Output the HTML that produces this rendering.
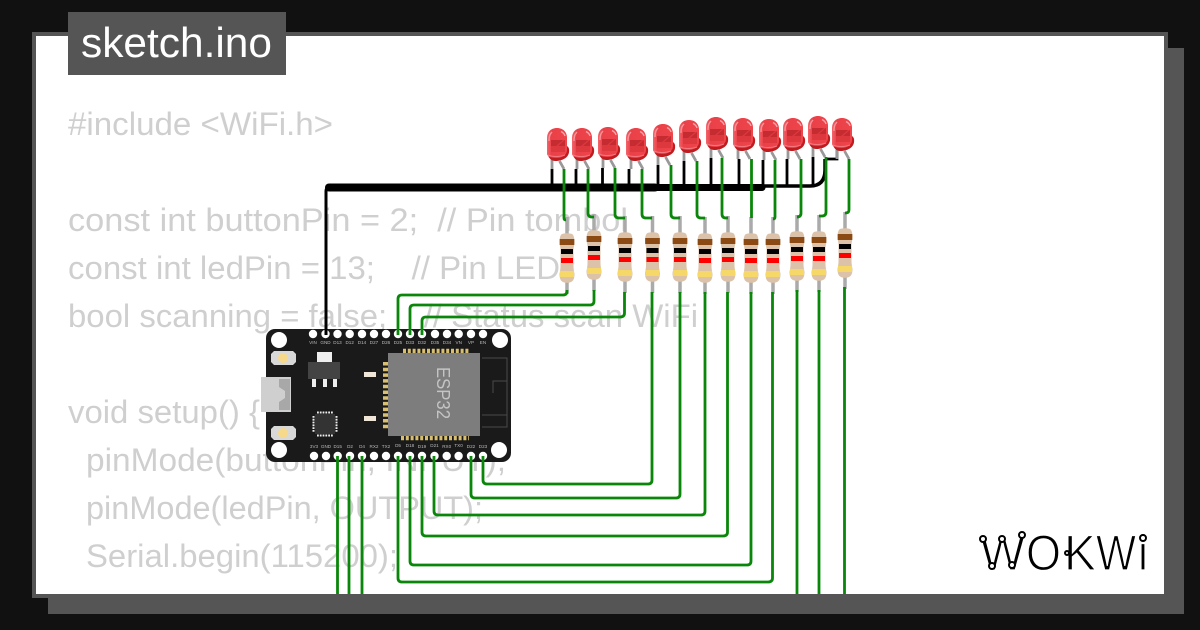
<!DOCTYPE html>
<html>
<head>
<meta charset="utf-8">
<style>
html,body{margin:0;padding:0;background:#111;width:1200px;height:630px;overflow:hidden}
svg{display:block}
.c{font-family:"Liberation Sans",sans-serif;font-size:32px;fill:#cfcfcf;white-space:pre}
.t{font-family:"Liberation Sans",sans-serif;font-size:4.6px;fill:#bbb;text-anchor:middle}
.g{fill:none;stroke:#0a860a;stroke-width:2.8;stroke-linejoin:round}
.k{fill:none;stroke:#000;stroke-width:2.8}
.w{font-family:"Liberation Sans",sans-serif;font-size:50px;fill:#000;stroke:#fff;stroke-width:1.2px}
</style>
</head>
<body>
<svg width="1200" height="630" viewBox="0 0 1200 630" xmlns="http://www.w3.org/2000/svg">
<defs>
<linearGradient id="lg" x1="0" x2="1" y1="0" y2="0">
<stop offset="0" stop-color="#f4656c"/><stop offset=".22" stop-color="#ea4048"/><stop offset="1" stop-color="#ee444a"/>
</linearGradient>
<g id="led">
<path d="M-5 31V41M2.500 33L7 41" fill="none" stroke="#999" stroke-width="2.800"/>
<path d="M-10 20C-6 16 11 14 12 21C13 28 8 32 0 33C-6 33.500 -10 30 -10 20Z" fill="#c01c20"/>
<path d="M-10 10C-10 3 -5 0 0 0C5 0 10 3 10 10V22C10 27 5 30 -1 30C-6 30 -10 28 -10 26Z" fill="url(#lg)"/>
<path d="M-6 12H8V24H-6Z" fill="#dc383e"/>
<path d="M-6 12H6L-1 18H-6Z" fill="#c42c32"/>
<path d="M8 12L1 18L8 18Z" fill="#c42c32"/>
<path d="M-8 13C-8 8 -7 6 -5 4" fill="none" stroke="#f8959a" stroke-width="1.400"/>
<path d="M4 3.500C6 4.500 7.500 6 8 8" fill="none" stroke="#f8a5aa" stroke-width="1.400"/>
<path d="M-9 27C-5 29 3 29 8 27" fill="none" stroke="#f27880" stroke-width="1"/>
</g>
<g id="res">
<path d="M0 -17V60" stroke="#aaa" stroke-width="3.500" fill="none"/>
<path d="M-5 0C-2 -1 2 -1 5 0C7 1 7.500 5 7.500 9C7 12 6.500 14 6.500 16V32C6.500 35 7 37 7.500 40C7.500 44 6.500 47 4 48C2 49 -2 49 -4 48C-6.500 47 -7.500 44 -7.500 40C-7 37 -6.500 35 -6.500 32V16C-6.500 14 -7 12 -7.500 9C-7.500 5 -7 1 -5 0Z" fill="#dcc2a8"/>
<rect x="-7.300" y="5" width="14.600" height="6" fill="#8b4a14"/>
<rect x="-6" y="15" width="12" height="5" fill="#000"/>
<rect x="-6" y="24" width="12" height="5" fill="#ff0000"/>
<rect x="-7" y="37" width="14" height="6" fill="#f5d867"/>
</g>
</defs>

<rect x="48" y="48" width="1136" height="566" fill="#555"/>
<rect x="32" y="32" width="1136" height="566" fill="#555"/>
<rect x="36" y="36" width="1128" height="558" fill="#fff"/>

<text class="c" x="68" y="135" textLength="265" lengthAdjust="spacingAndGlyphs">#include &lt;WiFi.h&gt;</text>
<text class="c" x="68" y="231" textLength="560" lengthAdjust="spacingAndGlyphs">const int buttonPin = 2;  // Pin tombol</text>
<text class="c" x="68" y="279" textLength="492" lengthAdjust="spacingAndGlyphs">const int ledPin = 13;    // Pin LED</text>
<text class="c" x="68" y="327" textLength="630" lengthAdjust="spacingAndGlyphs">bool scanning = false;    // Status scan WiFi</text>
<text class="c" x="68" y="423" textLength="192" lengthAdjust="spacingAndGlyphs">void setup() {</text>
<text class="c" x="86" y="471" textLength="420" lengthAdjust="spacingAndGlyphs">pinMode(buttonPin, INPUT);</text>
<text class="c" x="86" y="519" textLength="397" lengthAdjust="spacingAndGlyphs">pinMode(ledPin, OUTPUT);</text>
<text class="c" x="86" y="567" textLength="312" lengthAdjust="spacingAndGlyphs">Serial.begin(115200);</text>

<rect x="68" y="12" width="218" height="63" fill="#555"/>
<text x="81" y="57" font-family="'Liberation Sans',sans-serif" font-size="42" fill="#fff" textLength="191" lengthAdjust="spacingAndGlyphs">sketch.ino</text>

<!-- board -->
<rect x="266" y="329" width="245" height="133" rx="9" fill="#1a1a1a"/>
<g fill="#fff">
<circle cx="279" cy="340" r="8"/><circle cx="279" cy="450" r="8"/><circle cx="500" cy="340" r="8"/><circle cx="499" cy="450" r="8"/>
<circle cx="313" cy="334" r="4.200"/><circle cx="325.500" cy="334" r="4.200"/><circle cx="337.500" cy="334" r="4.200"/><circle cx="349.700" cy="334" r="4.200"/><circle cx="362" cy="334" r="4.200"/><circle cx="374" cy="334" r="4.200"/><circle cx="386" cy="334" r="4.200"/><circle cx="398" cy="334" r="4.200"/><circle cx="410" cy="334" r="4.200"/><circle cx="422" cy="334" r="4.200"/><circle cx="435" cy="334" r="4.200"/><circle cx="447" cy="334" r="4.200"/><circle cx="458.700" cy="334" r="4.200"/><circle cx="471" cy="334" r="4.200"/><circle cx="483" cy="334" r="4.200"/>
<circle cx="314" cy="456" r="4.200"/><circle cx="326" cy="456" r="4.200"/><circle cx="337.700" cy="456" r="4.200"/><circle cx="350" cy="456" r="4.200"/><circle cx="362" cy="456" r="4.200"/><circle cx="374" cy="456" r="4.200"/><circle cx="386" cy="456" r="4.200"/><circle cx="398" cy="456" r="4.200"/><circle cx="410" cy="456" r="4.200"/><circle cx="422" cy="456" r="4.200"/><circle cx="434.500" cy="456" r="4.200"/><circle cx="446.700" cy="456" r="4.200"/><circle cx="458.600" cy="456" r="4.200"/><circle cx="471" cy="456" r="4.200"/><circle cx="483" cy="456" r="4.200"/>
</g>
<g>
<text class="t" x="313" y="344">VIN</text><text class="t" x="325.500" y="344">GND</text><text class="t" x="337.500" y="344">D13</text><text class="t" x="349.700" y="344">D12</text><text class="t" x="362" y="344">D14</text><text class="t" x="374" y="344">D27</text><text class="t" x="386" y="344">D26</text><text class="t" x="398" y="344">D25</text><text class="t" x="410" y="344">D33</text><text class="t" x="422" y="344">D32</text><text class="t" x="435" y="344">D35</text><text class="t" x="447" y="344">D34</text><text class="t" x="458.700" y="344">VN</text><text class="t" x="471" y="344">VP</text><text class="t" x="483" y="344">EN</text>
<text class="t" x="314" y="448">3V3</text><text class="t" x="326" y="448">GND</text><text class="t" x="337.700" y="448">D15</text><text class="t" x="350" y="448">D2</text><text class="t" x="362" y="448">D4</text><text class="t" x="374" y="448">RX2</text><text class="t" x="386" y="448">TX2</text><text class="t" x="398" y="447">D5</text><text class="t" x="410" y="447">D18</text><text class="t" x="422" y="448">D19</text><text class="t" x="434.500" y="447">D21</text><text class="t" x="446.700" y="448">RX0</text><text class="t" x="458.600" y="447">TX0</text><text class="t" x="471" y="448">D22</text><text class="t" x="483" y="448">D23</text>
</g>
<!-- usb -->
<rect x="261" y="377" width="30" height="35" fill="#cfcfcf"/>
<path d="M279 379H290V410H279V402L285 398V391L279 387Z" fill="#a8a8a8"/>
<!-- buttons -->
<g>
<path d="M274 351H293L296 354V362L293 365H274L271 362V354Z" fill="#d8d8d8"/><circle cx="283" cy="358" r="5" fill="#f7d98c"/>
<path d="M274 426H293L296 429V437L293 440H274L271 437V429Z" fill="#d8d8d8"/><circle cx="283" cy="433" r="5" fill="#f7d98c"/>
</g>
<!-- regulator -->
<rect x="317" y="352" width="15" height="10" fill="#eee"/>
<rect x="308" y="362" width="32" height="17" fill="#444"/>
<g fill="#eee"><rect x="312" y="379" width="4" height="8"/><rect x="323" y="379" width="4" height="8"/><rect x="333" y="379" width="4" height="8"/></g>
<!-- small parts -->
<rect x="364" y="372" width="12" height="5" fill="#f0e6d8"/>
<rect x="364" y="416" width="12" height="5" fill="#f0e6d8"/>
<!-- usb chip -->
<rect x="315" y="414" width="20" height="20" fill="#333"/>
<path d="M317 412.500H333M317 435.500H333" stroke="#eee" stroke-width="2" stroke-dasharray="1.800 1" fill="none"/>
<path d="M313.500 416V432M336.500 416V432" stroke="#eee" stroke-width="2" stroke-dasharray="1.800 1" fill="none"/>
<!-- esp module -->
<path d="M403 351H470" stroke="#d8c070" stroke-width="4.500" stroke-dasharray="3 1.800" fill="none"/>
<path d="M401 438H469" stroke="#d8c070" stroke-width="4.500" stroke-dasharray="3 1.800" fill="none"/>
<path d="M385.500 362V429" stroke="#d8c070" stroke-width="5" stroke-dasharray="3.500 2.200" fill="none"/>
<rect x="388" y="353" width="92" height="83" fill="#7d7d7d"/>
<text transform="translate(437,393) rotate(90)" font-family="'Liberation Sans',sans-serif" font-size="18" fill="#c4c4c4" text-anchor="middle" textLength="52" lengthAdjust="spacingAndGlyphs">ESP32</text>
<path d="M482 358H507V381H493V393M507 381V415H482M482 427H507V415" fill="none" stroke="#4a4a4a" stroke-width="1"/>

<!-- resistors -->
<use href="#res" x="567" y="234"/>
<use href="#res" x="594" y="231"/>
<use href="#res" x="625" y="233"/>
<use href="#res" x="652.500" y="233"/>
<use href="#res" x="680" y="233"/>
<use href="#res" x="705" y="234"/>
<use href="#res" x="728" y="233"/>
<use href="#res" x="751" y="234"/>
<use href="#res" x="773" y="234"/>
<use href="#res" x="797" y="232"/>
<use href="#res" x="819" y="232"/>
<use href="#res" x="845" y="229"/>

<!-- black wires -->
<path d="M326 335V191Q326 187 331 187H655" fill="none" stroke="#000" stroke-width="3"/>
<path d="M329 187.500H655" fill="none" stroke="#000" stroke-width="8" stroke-linecap="round"/>
<path d="M655 187.500H762" fill="none" stroke="#000" stroke-width="7" stroke-linecap="round"/>
<path d="M760 186H810Q825 186 825 170V159" fill="none" stroke="#000" stroke-width="3.500"/>
<path d="M552 169V187M576 169V187M602.500 168V187M629 169V187M658 165V187M684 161V187M711 158V187M739 159V187M763 160V187M787 159V187M813 157V187" class="k"/>
<path d="M825 159H837V150" class="k"/>

<!-- LEDs -->
<use href="#led" x="557" y="128"/>
<use href="#led" x="582" y="128"/>
<use href="#led" x="608" y="127"/>
<use href="#led" x="636" y="128"/>
<use href="#led" x="663" y="124"/>
<use href="#led" x="689" y="120"/>
<use href="#led" x="716" y="117"/>
<use href="#led" x="743" y="118"/>
<use href="#led" x="769" y="119"/>
<use href="#led" x="793" y="118"/>
<use href="#led" x="818" y="116"/>
<use href="#led" x="842" y="118"/>

<!-- green wires: led to resistor -->
<path class="g" d="M564 169V218Q564 220 566 220"/>
<path class="g" d="M588 169V213Q588 217 592 217H594"/>
<path class="g" d="M615 168V214Q615 218 619 218H625"/>
<path class="g" d="M642 169V214Q642 218 646 218H652"/>
<path class="g" d="M671 165V214Q671 218 675 218H680"/>
<path class="g" d="M697 161V214Q697 218 701 218H705"/>
<path class="g" d="M722 158V214Q722 218 726 218H728"/>
<path class="g" d="M751.500 159V218"/>
<path class="g" d="M775 160V217Q775 219 773 219"/>
<path class="g" d="M801 159V213Q801 217 797 217"/>
<path class="g" d="M826 157V212Q826 216 822 216H819"/>
<path class="g" d="M849 159V210Q849 213 845 213"/>

<!-- green wires: resistor to board -->
<path class="g" d="M567 290V291Q567 295 563 295H402Q398 295 398 299V335"/>
<path class="g" d="M594 290V301Q594 305 590 305H414Q410 305 410 309V335"/>
<path class="g" d="M624.500 292V313Q624.500 317 620 317H426Q422 317 422 321V335"/>
<path class="g" d="M652 292V480Q652 484 648 484H487Q483 484 483 480V456"/>
<path class="g" d="M680 292V494Q680 498 676 498H475Q471 498 471 494V456"/>
<path class="g" d="M705 292V511Q705 515 701 515H438Q434 515 434 511V456"/>
<path class="g" d="M727.500 292V532Q727.500 536 723 536H426Q422 536 422 532V456"/>
<path class="g" d="M751 292V561Q751 565 747 565H414Q410 565 410 561V456"/>
<path class="g" d="M772.500 292V578Q772.500 582 768 582H402Q398 582 398 578V456"/>
<path class="g" d="M797 290V594M819 290V594M844.500 287V594"/>
<path class="g" d="M337.500 456V594M349 456V594M362 456V594"/>

<!-- logo -->
<text class="w" x="980" y="570" textLength="45" lengthAdjust="spacingAndGlyphs">W</text>
<text class="w" x="1026" y="570" textLength="35" lengthAdjust="spacingAndGlyphs">O</text>
<text class="w" x="1064" y="570" textLength="32" lengthAdjust="spacingAndGlyphs">K</text>
<text class="w" x="1096" y="570" textLength="40" lengthAdjust="spacingAndGlyphs">W</text>
<text class="w" x="1138" y="570" textLength="10" lengthAdjust="spacingAndGlyphs">i</text>
<g fill="#fff" stroke="#000" stroke-width="2">
<circle cx="983" cy="539" r="3"/><circle cx="1002" cy="539" r="3"/><circle cx="1022" cy="535" r="3"/><circle cx="992" cy="566" r="3"/><circle cx="1012" cy="565" r="3"/><circle cx="1067" cy="553" r="2"/><circle cx="1143" cy="538" r="3"/>
</g>
</svg>
</body>
</html>
